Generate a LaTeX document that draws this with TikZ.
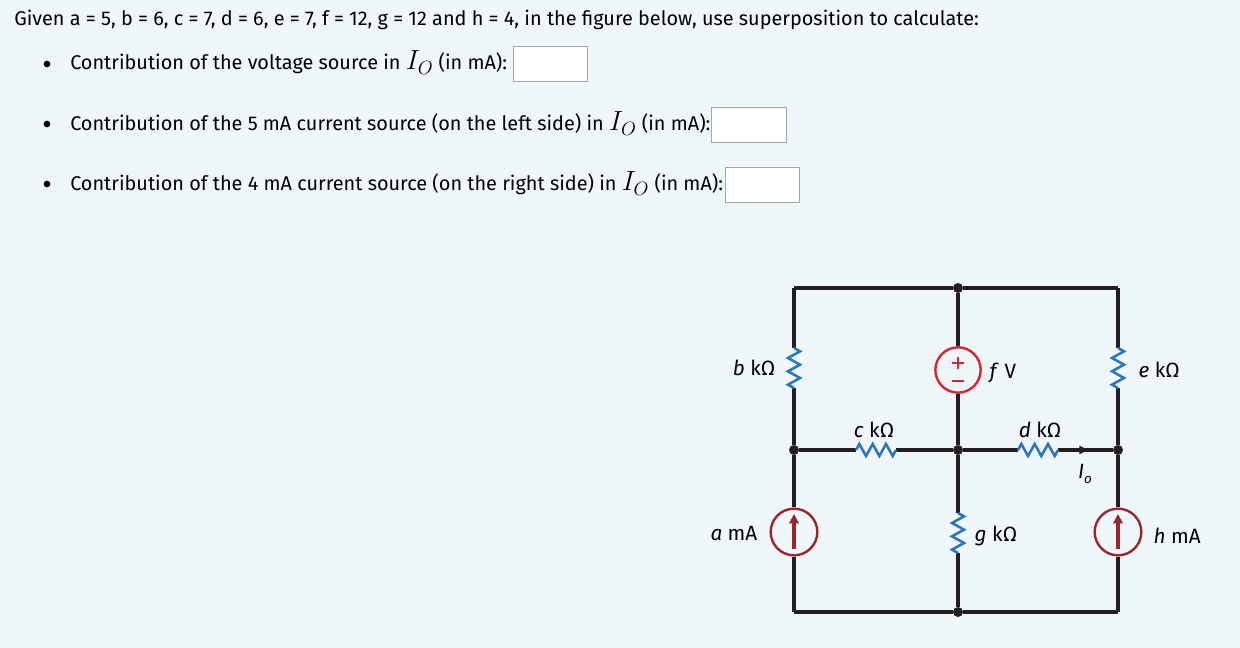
\documentclass[tikz,border=0pt]{standalone}
\usepackage{fontspec}
\setmainfont{Fira Sans}
\usetikzlibrary{decorations.pathmorphing,arrows.meta}
\definecolor{bg}{HTML}{F0F7FA}
\definecolor{wire}{HTML}{231F20}
\definecolor{resb}{HTML}{2A75BB}
\definecolor{vsrc}{HTML}{D7262E}
\definecolor{isrc}{HTML}{98262B}
\newcommand{\IO}{{\fontsize{20}{20}\selectfont$I_O$}}
\tikzset{
 w/.style={draw=wire,line width=2.3pt},
 res/.style={draw=resb,line width=1.9pt,decorate,decoration={zigzag,amplitude=4.5pt,segment length=10pt}},
 dot/.style={circle,fill=wire,inner sep=0pt,minimum size=7.5pt},
 vs/.style={circle,draw=vsrc,line width=1.8pt,minimum size=34pt,inner sep=0pt},
 cs/.style={circle,draw=isrc,line width=1.8pt,minimum size=35pt,inner sep=0pt},
 lab/.style={font=\fontsize{15.5}{17}\selectfont},
 txt/.style={anchor=base west,inner sep=0pt,font=\fontsize{14.9}{17}\selectfont},
 box/.style={draw=gray!70,fill=white,line width=0.6pt}
}
\begin{document}
\begin{tikzpicture}[x=0.75pt,y=-0.75pt]
\fill[bg] (0,0) rectangle (1240,648);
\useasboundingbox (0,0) rectangle (1240,648);
% text
\node[txt] (t0) at (14,26) {Given a = 5, b = 6, c = 7, d = 6, e = 7, f = 12, g = 12 and h = 4, in the figure below, use superposition to calculate:};
\node[txt] (t1) at (70,70) {Contribution of the voltage source in \IO{} (in mA):};
\node[txt] (t2) at (70,131) {Contribution of the 5 mA current source (on the left side) in \IO{} (in mA):};
\node[txt] (t3) at (70,191) {Contribution of the 4 mA current source (on the right side) in \IO{} (in mA):};
\foreach \y/\n in {64/b1,124/b2,184/b3}{\node[circle,fill=black,inner sep=0pt,minimum size=5pt] (\n) at (47,\y) {};}
\draw[box] (513,46) rectangle (587,81);
\draw[box] (711,107) rectangle (786,142);
\draw[box] (725,167) rectangle (799,202);
% junctions
\coordinate (TL) at (794,288); \node[dot] (TM) at (958,288) {}; \coordinate (TR) at (1118,288);
\node[dot] (ML) at (794,450) {}; \node[dot] (MM) at (958,450) {}; \node[dot] (MR) at (1118,450) {};
\coordinate (BL) at (794,612); \node[dot] (BM) at (958,612) {}; \coordinate (BR) at (1118,612);
% resistor ends
\coordinate (b1) at (794,348); \coordinate (b2) at (794,388);
\coordinate (e1) at (1118,348); \coordinate (e2) at (1118,388);
\coordinate (c1) at (856,450); \coordinate (c2) at (896,450);
\coordinate (d1) at (1018,450); \coordinate (d2) at (1058,450);
\coordinate (g1) at (958,513); \coordinate (g2) at (958,553);
\node[vs] (V) at (958,370) {};
\node[cs] (A) at (794,532) {};
\node[cs] (H) at (1118,532) {};
% wires
\draw[w] (TL) -- (TM) -- (TR);
\draw[w] (BL) -- (BM) -- (BR);
\draw[w] (TL) -- (b1); \draw[w] (b2) -- (ML) -- (A.north); \draw[w] (A.south) -- (BL);
\draw[w] (TR) -- (e1); \draw[w] (e2) -- (MR) -- (H.north); \draw[w] (H.south) -- (BR);
\draw[w] (TM) -- (V.north); \draw[w] (V.south) -- (MM) -- (g1); \draw[w] (g2) -- (BM);
\draw[w] (ML) -- (c1); \draw[w] (c2) -- (MM) -- (d1); \draw[w] (d2) -- (MR);
\draw[w,-{Latex[length=8pt,width=7pt]}] (d2) -- (1090,450);
% resistors
\draw[res] (b1) -- (b2); \draw[res] (e1) -- (e2);
\draw[res] (c1) -- (c2); \draw[res] (d1) -- (d2); \draw[res] (g1) -- (g2);
% source symbols
\draw[vsrc,line width=1.3pt] (952,363) -- (964,363) (958,357) -- (958,369);
\draw[vsrc,line width=1.3pt] (952,381) -- (964,381);
\draw[isrc,line width=2.4pt,-{Triangle[length=7pt,width=7pt]}] (794,549) -- (794,514);
\draw[isrc,line width=2.4pt,-{Triangle[length=7pt,width=7pt]}] (1118,549) -- (1118,514);
% labels
\node[lab,anchor=east] (lb) at (780,368) {\textit{b} kΩ};
\node[lab,anchor=west] (le) at (1134,370) {\textit{e} kΩ};
\node[lab,anchor=west] (lf) at (985,373) {\textit{f} V};
\node[lab] (lc) at (874,430) {\textit{c} kΩ};
\node[lab] (ld) at (1040,430) {\textit{d} kΩ};
\node[lab] (lio) at (1085,474) {\textit{I}\raisebox{-4pt}{\fontsize{10}{10}\selectfont\textit{o}}};
\node[lab,anchor=east] (la) at (762,534) {\textit{a} mA};
\node[lab,anchor=west] (lg) at (970,536) {\textit{g} kΩ};
\node[lab,anchor=west] (lh) at (1149,536) {\textit{h} mA};
\end{tikzpicture}
\end{document}
